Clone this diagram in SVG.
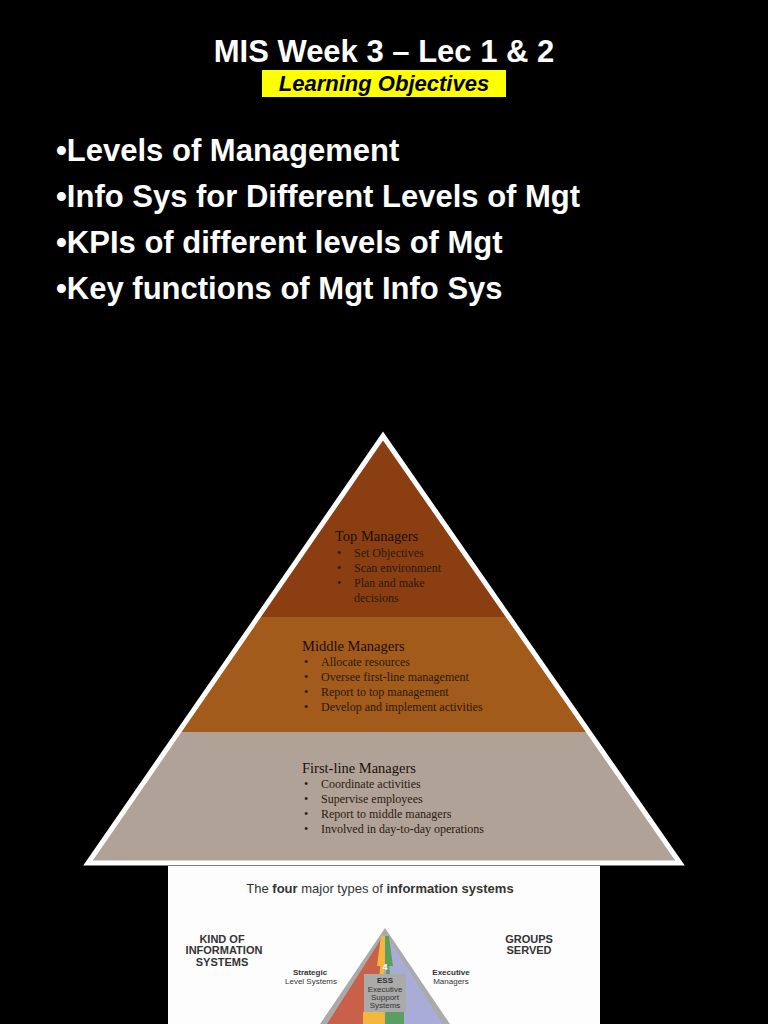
<svg xmlns="http://www.w3.org/2000/svg" width="768" height="1024" viewBox="0 0 768 1024">
<style>
.t{font-family:"Liberation Sans",Arial,sans-serif;fill:#fff;font-weight:bold}
.s{font-family:"Liberation Serif","Times New Roman",serif;fill:#2a1a10;font-size:12px}
.h{font-family:"Liberation Serif","Times New Roman",serif;fill:#1a100a;font-size:14.5px}
.g{font-family:"Liberation Sans",Arial,sans-serif;fill:#333}
</style>
<rect width="768" height="1024" fill="#000"/>
<text class="t" x="384" y="62" font-size="31" text-anchor="middle">MIS Week 3 – Lec 1 &amp; 2</text>
<rect x="262" y="70" width="244" height="27" fill="#ffff00"/>
<text x="384" y="91" font-size="22" text-anchor="middle" font-family="Liberation Sans,Arial,sans-serif" font-weight="bold" font-style="italic" fill="#000">Learning Objectives</text>
<g class="t" font-size="31">
<text x="56" y="161">•Levels of Management</text>
<text x="56" y="207">•Info Sys for Different Levels of Mgt</text>
<text x="56" y="253">•KPIs of different levels of Mgt</text>
<text x="56" y="299">•Key functions of Mgt Info Sys</text>
</g>
<g id="pyramid">
<polygon points="383,436 258,617 509,617" fill="#8b3e12"/>
<polygon points="258,617 509,617 589,732 178,732" fill="#a35b1c"/>
<polygon points="178,732 589,732 678,861 90,861" fill="#b1a297"/>
<polygon points="383,436 88,863 680,863" fill="none" stroke="#fff" stroke-width="5" stroke-linejoin="miter"/>
</g>
<g id="top">
<text class="h" x="335" y="541">Top Managers</text>
<text class="s" x="337" y="557">•<tspan x="354">Set Objectives</tspan></text>
<text class="s" x="337" y="572">•<tspan x="354">Scan environment</tspan></text>
<text class="s" x="337" y="587">•<tspan x="354">Plan and make</tspan></text>
<text class="s" x="354" y="602">decisions</text>
</g>
<g id="middle">
<text class="h" x="302" y="651">Middle Managers</text>
<text class="s" x="304" y="666">•<tspan x="321">Allocate resources</tspan></text>
<text class="s" x="304" y="681">•<tspan x="321">Oversee first-line management</tspan></text>
<text class="s" x="304" y="696">•<tspan x="321">Report to top management</tspan></text>
<text class="s" x="304" y="711">•<tspan x="321">Develop and implement activities</tspan></text>
</g>
<g id="first">
<text class="h" x="302" y="773">First-line Managers</text>
<text class="s" x="304" y="788">•<tspan x="321">Coordinate activities</tspan></text>
<text class="s" x="304" y="803">•<tspan x="321">Supervise employees</tspan></text>
<text class="s" x="304" y="818">•<tspan x="321">Report to middle managers</tspan></text>
<text class="s" x="304" y="833">•<tspan x="321">Involved in day-to-day operations</tspan></text>
</g>
<g id="infosys">
<rect x="168" y="866" width="432" height="158" fill="#fdfdfd"/>
<text class="g" x="380" y="893" font-size="13" text-anchor="middle">The <tspan font-weight="bold">four</tspan> major types of <tspan font-weight="bold">information systems</tspan></text>
<g class="g" font-size="11" font-weight="bold" text-anchor="middle">
<text x="222" y="943">KIND OF</text><text x="224" y="954">INFORMATION</text><text x="222" y="966">SYSTEMS</text>
<text x="529" y="943">GROUPS</text><text x="529" y="954">SERVED</text>
</g>
<g class="g" font-size="8" text-anchor="middle">
<text x="310" y="975" font-weight="bold">Strategic</text><text x="311" y="984">Level Systems</text>
<text x="451" y="975" font-weight="bold">Executive</text><text x="451" y="984">Managers</text>
</g>
<polygon points="385,928 316,1030 454,1030" fill="#aaa"/>
<polygon points="383,936 327,1024 380,1024" fill="#c8604a"/>
<polygon points="383,936 375,1024 385,1024" fill="#f2b73c"/>
<polygon points="387,936 385,1024 394,1024" fill="#5a9e62"/>
<polygon points="387,936 394,1024 443,1024" fill="#a9acd6"/>
<polygon points="381,936 377,966 393,966 389,936" fill="#f2b73c"/>
<polygon points="385,936 385,966 393,966 389,936" fill="#5a9e62"/>
<rect x="364" y="974" width="42" height="38" fill="#aaa"/>
<text x="385" y="970" font-size="9" fill="#fff" text-anchor="middle" font-family="Liberation Sans,Arial,sans-serif" font-weight="bold">4</text>
<g class="g" font-size="8" text-anchor="middle">
<text x="385" y="983" font-weight="bold">ESS</text>
<text x="385" y="992">Executive</text><text x="385" y="1000">Support</text><text x="385" y="1008">Systems</text>
</g>
<rect x="363" y="1012" width="16" height="12" fill="#f2b73c"/>
<rect x="388" y="1012" width="16" height="12" fill="#5a9e62"/>
</g>
</svg>
